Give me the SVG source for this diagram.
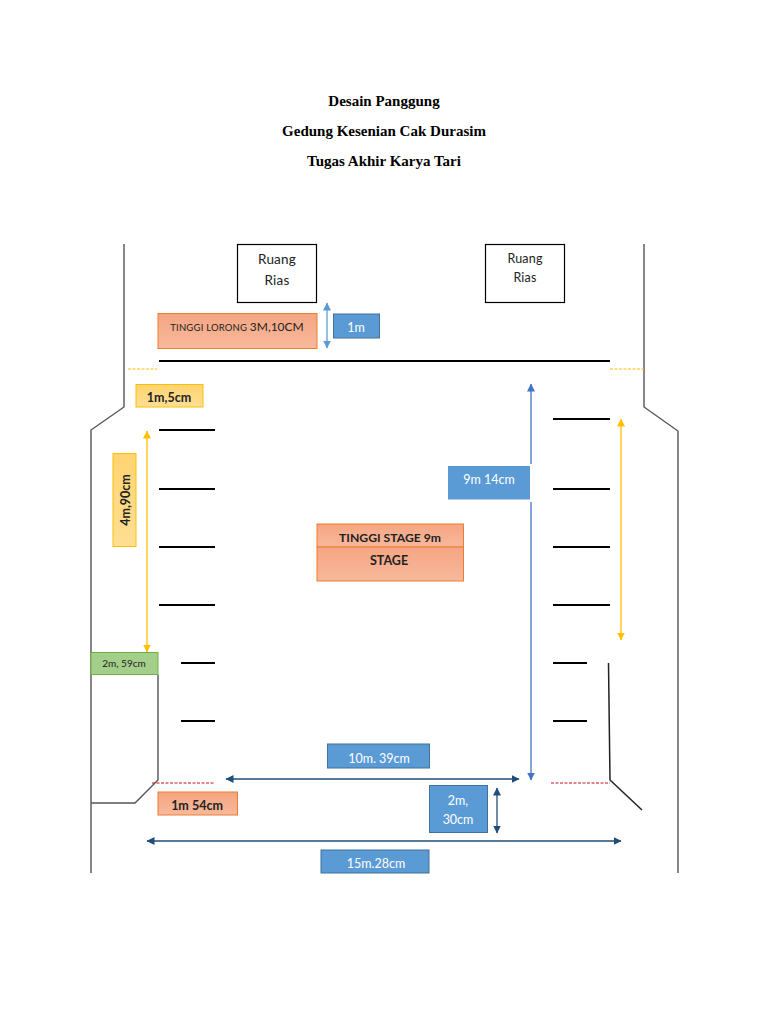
<svg xmlns="http://www.w3.org/2000/svg" width="768" height="1024" viewBox="0 0 768 1024">
<style>
.title{font-family:"Liberation Serif",serif;font-size:15px;font-weight:bold;text-anchor:middle;fill:#000}
.t{font-family:Lato,"Liberation Sans",sans-serif;text-anchor:middle;fill:#222}
.wall{fill:none;stroke:#555;stroke-width:1.4}
.dark{fill:none;stroke:#222;stroke-width:1.5}
.wing{stroke:#000;stroke-width:2;fill:none}
.blue{fill:#5b9bd5;stroke:#41719c;stroke-width:1}
.or{fill:url(#og);stroke:#ed7d31;stroke-width:1}
.yl{fill:url(#yg);stroke:#ffc000;stroke-width:1}
.gr{fill:#a3cf8a;stroke:#70ad47;stroke-width:1}
.room{fill:#fff;stroke:#000;stroke-width:1.2}
</style>
<defs>
<linearGradient id="og" x1="0" y1="0" x2="0" y2="1"><stop offset="0" stop-color="#f5a582"/><stop offset="1" stop-color="#f8b99c"/></linearGradient>
<linearGradient id="yg" x1="0" y1="0" x2="0" y2="1"><stop offset="0" stop-color="#ffd470"/><stop offset="1" stop-color="#ffdf95"/></linearGradient>
<marker id="mb" markerUnits="userSpaceOnUse" markerWidth="9" markerHeight="9" refX="7.5" refY="4" orient="auto-start-reverse"><path d="M0 0L8 4L0 8Z" fill="#5b9bd5"/></marker>
<marker id="mk" markerUnits="userSpaceOnUse" markerWidth="9" markerHeight="9" refX="7.5" refY="4" orient="auto-start-reverse"><path d="M0 0L8 4L0 8Z" fill="#4472c4"/></marker>
<marker id="my" markerUnits="userSpaceOnUse" markerWidth="9" markerHeight="9" refX="7.5" refY="4" orient="auto-start-reverse"><path d="M0 0L8 4L0 8Z" fill="#ffc000"/></marker>
<marker id="md" markerUnits="userSpaceOnUse" markerWidth="9" markerHeight="9" refX="7.5" refY="4" orient="auto-start-reverse"><path d="M0 0L8 4L0 8Z" fill="#1f4e79"/></marker>
</defs>
<rect width="768" height="1024" fill="#fff"/>
<g id="titles">
<text class="title" x="384" y="106">Desain Panggung</text>
<text class="title" x="384" y="136">Gedung Kesenian Cak Durasim</text>
<text class="title" x="384" y="166">Tugas Akhir Karya Tari</text>
</g>
<g id="connectors">
<path class="wall" d="M124 244V407L91 430V873"/>
<path class="wall" d="M644 244V407L678 431V873"/>
<path class="wall" d="M158 675V780L135 803H91"/>
<path class="dark" d="M608.500 663L610 780L642 810"/>
<path d="M152 783H215M551 783H610" stroke="#c8101c" stroke-width="1" stroke-dasharray="3 1.500" fill="none"/>
<path d="M128 369H157M610 369H644" stroke="#ffc000" stroke-width="1" stroke-dasharray="3 1.500" fill="none"/>
<path class="wing" d="M159 361H610"/>
<path class="wing" d="M159 430H215M159 489H215M159 547H215M159 605H215M181 663H215M181 721H215"/>
<path class="wing" d="M553 419H610M553 489H610M553 547H610M553 605H610M553 663H587M553 721H587"/>
<line x1="327" y1="303" x2="327" y2="348" stroke="#5b9bd5" stroke-width="1.300" marker-start="url(#mb)" marker-end="url(#mb)"/>
<line x1="147" y1="431" x2="147" y2="652" stroke="#ffc000" stroke-width="1.300" marker-start="url(#my)" marker-end="url(#my)"/>
<line x1="531" y1="384" x2="531" y2="464" stroke="#4472c4" stroke-width="1.300" marker-start="url(#mk)"/>
<line x1="531" y1="502" x2="531" y2="780" stroke="#4472c4" stroke-width="1.300" marker-end="url(#mk)"/>
<line x1="621" y1="419" x2="621" y2="640" stroke="#ffc000" stroke-width="1.300" marker-start="url(#my)" marker-end="url(#my)"/>
<line x1="226" y1="779" x2="519" y2="779" stroke="#1f4e79" stroke-width="1.300" marker-start="url(#md)" marker-end="url(#md)"/>
<line x1="147" y1="841" x2="621" y2="841" stroke="#1f4e79" stroke-width="1.300" marker-start="url(#md)" marker-end="url(#md)"/>
<line x1="497" y1="788" x2="497" y2="833" stroke="#1f4e79" stroke-width="1.300" marker-start="url(#md)" marker-end="url(#md)"/>
</g>
<g id="room-left"><rect class="room" x="237.500" y="244.500" width="79" height="58"/>
<text class="t" x="277" y="264" font-size="13.500" letter-spacing=".2">Ruang</text><text class="t" x="277" y="285" font-size="13.500" letter-spacing=".2">Rias</text></g>
<g id="room-right"><rect class="room" x="485.500" y="244.500" width="79" height="58"/>
<text class="t" x="525" y="263" font-size="12.500" letter-spacing=".2">Ruang</text><text class="t" x="525" y="282" font-size="12.500" letter-spacing=".2">Rias</text></g>
<g id="lorong"><rect class="or" x="158" y="313.500" width="159" height="35"/>
<text class="t" x="237" y="331"><tspan font-size="9.500" letter-spacing=".2">TINGGI LORONG </tspan><tspan font-size="12">3M,10CM</tspan></text></g>
<g id="h1m"><rect class="blue" x="333.500" y="314" width="46" height="24"/><text class="t" x="356" y="332" font-size="12.500" style="fill:#fff">1m</text></g>
<g id="w1m5"><rect class="yl" x="136" y="384.500" width="67" height="22.500"/><text class="t" x="169" y="402" font-size="12.500" font-weight="bold">1m,5cm</text></g>
<g id="h4m90"><rect class="yl" x="113" y="453.500" width="23" height="93"/><text class="t" transform="translate(130 500) rotate(-90)" font-size="12.500" font-weight="bold">4m,90cm</text></g>
<g id="w2m59"><rect class="gr" x="91" y="652.500" width="67" height="22"/><text class="t" x="124" y="667" font-size="10">2m, 59cm</text></g>
<g id="stage-height"><rect class="or" x="317" y="524" width="146.500" height="23"/><text class="t" x="390" y="542" font-size="12.200" font-weight="bold">TINGGI STAGE 9m</text></g>
<g id="stage"><rect class="or" x="317" y="547" width="146.500" height="34"/><text class="t" x="389" y="565" font-size="12.500" font-weight="bold">STAGE</text></g>
<g id="h9m14"><rect x="448" y="466" width="82" height="33.500" fill="#5b9bd5"/><text class="t" x="489" y="484" font-size="12.500" style="fill:#fff">9m 14cm</text></g>
<g id="w1m54"><rect class="or" x="158" y="792" width="79.500" height="23"/><text class="t" x="197" y="810" font-size="12.500" font-weight="bold">1m 54cm</text></g>
<g id="w10m39"><rect class="blue" x="327.500" y="744" width="102" height="24"/><text class="t" x="379" y="763" font-size="12.500" style="fill:#fff">10m. 39cm</text></g>
<g id="h2m30"><rect class="blue" x="429.500" y="785.500" width="58" height="47" stroke-width="1.500"/><text class="t" x="458" y="805" font-size="12.500" style="fill:#fff">2m,</text><text class="t" x="458" y="824" font-size="12.500" style="fill:#fff">30cm</text></g>
<g id="w15m28"><rect class="blue" x="321" y="850" width="108" height="23"/><text class="t" x="376" y="868" font-size="12.500" style="fill:#fff">15m.28cm</text></g>
</svg>
